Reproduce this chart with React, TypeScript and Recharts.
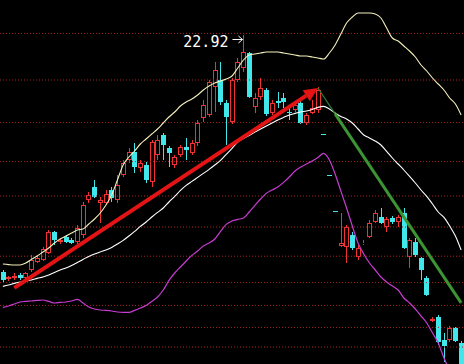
import React from 'react';
import { ComposedChart, Bar, Line, XAxis, YAxis, ReferenceLine, ReferenceDot } from 'recharts';

const days = Array.from({ length: 81 }, (_, i) => `D${i + 1}`);

const openP = [
  11.07, 10.72, 10.77, 10.92, 10.77, 11.17, 11.57, 11.67, 12.02, 13.07,
  12.57, 12.82, 12.67, 12.57, 12.92, 14.67, 15.32, 14.52, 14.52, 15.17,
  14.67, 15.92, 16.67, 17.07, 16.27, 16.42, 15.57, 16.92, 17.92, 17.27,
  16.42, 16.92, 17.32, 17.02, 17.52, 18.77, 18.92, 20.32, 20.67, 19.52,
  18.57, 20.67, 21.27, 22.02, 19.32, 19.82, 20.17, 19.02, 19.62, 19.77,
  19.07, 19.17, 19.52, 18.52, 19.02, 19.17, 17.97, 15.92, 14.12, 12.37,
  12.32, 12.92, 11.82, 12.47, 12.82, 13.57, 13.82, 13.32, 13.77, 13.57,
  14.02, 11.82, 12.57, 11.77, 10.77, 8.62, 8.82, 7.67, 7.67, 8.27, 7.52,
];
const closeP = [
  10.67, 10.82, 10.87, 10.77, 11.02, 11.67, 11.77, 12.22, 13.07, 12.67,
  12.67, 12.57, 12.52, 13.27, 14.42, 14.92, 14.82, 14.67, 14.97, 14.77,
  15.42, 16.52, 17.07, 16.32, 16.52, 15.67, 17.57, 17.67, 17.42, 17.02,
  16.82, 17.32, 17.17, 17.52, 18.52, 19.42, 20.57, 21.17, 19.57, 18.82,
  20.67, 21.57, 22.07, 19.82, 19.77, 20.27, 18.97, 19.52, 19.52, 19.57,
  19.02, 19.42, 18.52, 18.92, 19.27, 20.17, 17.97, 15.92, 14.12, 12.52,
  13.32, 12.27, 12.27, 12.52, 13.52, 14.02, 13.52, 13.72, 13.57, 13.82,
  12.27, 12.67, 11.92, 11.17, 9.92, 8.72, 7.57, 7.37, 8.27, 7.62, 6.37,
];
const highP = [
  11.17, 10.87, 11.02, 11.02, 11.07, 11.92, 11.87, 12.32, 13.17, 13.12,
  12.77, 12.92, 12.77, 13.42, 14.57, 15.07, 15.67, 14.82, 15.17, 15.32,
  15.92, 16.67, 17.27, 17.52, 16.67, 16.57, 17.67, 17.92, 18.02, 17.37,
  16.92, 17.42, 17.77, 17.67, 18.67, 19.67, 20.67, 21.57, 21.57, 19.67,
  20.77, 21.77, 22.92, 22.07, 20.02, 20.77, 20.27, 19.67, 20.07, 20.02,
  19.27, 19.52, 19.62, 19.02, 19.67, 20.32, 17.97, 15.92, 14.12, 14.02,
  13.42, 13.07, 12.42, 12.67, 13.67, 14.17, 14.27, 13.82, 13.87, 13.92,
  14.27, 12.77, 12.77, 11.82, 10.87, 8.82, 8.92, 8.02, 8.37, 8.32, 7.62,
];
const lowP = [
  10.52, 10.62, 10.67, 10.67, 10.72, 11.07, 11.52, 11.62, 11.97, 12.42,
  12.47, 12.52, 12.47, 12.47, 12.77, 14.52, 14.77, 13.52, 14.42, 14.57,
  14.52, 15.82, 16.52, 16.02, 16.07, 15.52, 15.32, 16.67, 16.67, 16.32,
  16.27, 16.82, 16.67, 16.92, 17.37, 18.57, 18.82, 19.07, 19.42, 17.42,
  18.47, 20.57, 21.07, 19.77, 19.02, 19.67, 18.87, 18.92, 19.27, 19.27,
  18.67, 19.07, 18.47, 18.42, 18.97, 19.02, 17.97, 15.92, 14.12, 12.32,
  11.52, 12.17, 11.67, 12.42, 12.77, 13.52, 13.47, 13.07, 13.47, 13.32,
  12.22, 11.27, 11.82, 10.67, 9.87, 8.57, 7.42, 6.57, 7.57, 7.57, 6.27,
];

const upperBand = [
  11.47, 11.44, 11.42, 11.42, 11.52, 11.70, 11.87, 12.07, 12.27, 12.52,
  12.72, 12.87, 13.02, 13.17, 13.22, 13.47, 13.72, 14.02, 14.42, 14.92,
  15.67, 16.42, 16.82, 17.12, 17.47, 17.72, 17.97, 18.22, 18.52, 18.82,
  19.07, 19.37, 19.57, 19.72, 19.92, 20.17, 20.37, 20.52, 20.62, 20.72,
  20.87, 21.27, 21.67, 21.92, 21.97, 22.02, 22.07, 22.07, 22.07, 22.02,
  21.97, 21.92, 21.87, 21.87, 21.82, 21.77, 21.72, 22.02, 22.42, 22.97,
  23.52, 23.82, 24.02, 24.02, 24.02, 23.97, 23.77, 23.27, 22.77, 22.62,
  22.37, 22.12, 21.82, 21.42, 21.12, 20.77, 20.47, 20.17, 19.77, 19.47, 18.92,
];
const midBand = [
  10.35, 10.42, 10.50, 10.57, 10.62, 10.67, 10.75, 10.82, 10.92, 11.05,
  11.17, 11.27, 11.40, 11.55, 11.70, 11.85, 11.97, 12.07, 12.17, 12.30,
  12.47, 12.65, 12.87, 13.10, 13.35, 13.57, 13.82, 14.05, 14.27, 14.57,
  14.85, 15.15, 15.40, 15.60, 15.80, 16.00, 16.20, 16.42, 16.65, 16.95,
  17.25, 17.57, 17.75, 17.90, 18.07, 18.22, 18.37, 18.52, 18.67, 18.80,
  18.92, 19.00, 19.07, 19.12, 19.20, 19.30, 19.35, 19.22, 19.02, 18.85,
  18.72, 18.52, 18.22, 17.92, 17.77, 17.62, 17.42, 17.10, 16.77, 16.47,
  16.17, 15.85, 15.52, 15.17, 14.85, 14.47, 14.07, 13.80, 13.37, 12.87, 12.17,
];
const lowerBand = [
  9.30, 9.37, 9.47, 9.57, 9.60, 9.62, 9.65, 9.67, 9.60, 9.52,
  9.55, 9.57, 9.62, 9.70, 9.52, 9.32, 9.22, 9.17, 9.15, 9.12,
  9.07, 9.05, 9.05, 9.15, 9.27, 9.40, 9.60, 9.82, 10.17, 10.65,
  11.02, 11.32, 11.62, 11.90, 12.12, 12.37, 12.52, 12.72, 13.10, 13.45,
  13.62, 13.70, 13.77, 14.07, 14.40, 14.72, 15.00, 15.17, 15.32, 15.55,
  15.82, 16.12, 16.32, 16.47, 16.62, 16.80, 17.00, 16.67, 15.97, 15.12,
  14.27, 13.37, 12.52, 11.97, 11.52, 11.17, 10.82, 10.57, 10.37, 10.17,
  9.77, 9.52, 9.22, 8.87, 8.52, 8.02, 7.52, 6.77, 6.17, 5.77, 5.37,
];

const gridPrices = [23.0, 20.67, 18.54, 16.59, 14.87, 13.32, 11.86, 10.54, 9.4, 8.3, 7.32];

const peakIndex = 42;
const peakLabel = '22.92';
const trendUp = [
  { idx: 2, price: 10.28 },
  { idx: 55, price: 20.27 },
];
const trendDownThin = [
  { idx: 55, price: 20.27 },
  { idx: 58, price: 18.98 },
];
const trendDown = [
  { idx: 58, price: 18.98 },
  { idx: 80, price: 9.53 },
];

const data = days.map((d, i) => ({
  d,
  open: openP[i],
  close: closeP[i],
  high: highP[i],
  low: lowP[i],
  upper: upperBand[i],
  mid: midBand[i],
  lower: lowerBand[i],
}));

const RED = '#f03232';
const CYAN = '#40e8ec';

const Candle = (props: any) => {
  const { x, y, width, height, payload } = props;
  if (payload == null || x == null || y == null) return null;
  const { open, close, high, low } = payload;
  const center = x + width / 2;
  const c = Math.floor(center);
  const wx = c + 0.5;
  const range = high - low;
  const h = height || 0;
  const py = (v: number) => (range > 0 ? y + ((high - v) / range) * h : y);
  const up = close > open;
  const color = up ? RED : CYAN;
  const yH = Math.round(py(high));
  const yL = Math.round(py(low));
  let top = Math.round(py(Math.max(open, close)));
  let bot = Math.round(py(Math.min(open, close)));
  if (range <= 0) {
    const yy = Math.round(y) + 0.5;
    return <line x1={c - 2} x2={c + 3} y1={yy} y2={yy} stroke={CYAN} strokeWidth={1} />;
  }
  if (up) {
    if (bot - top < 1) bot = top + 1;
    return (
      <g>
        {top > yH && <line x1={wx} x2={wx} y1={yH} y2={top} stroke={color} strokeWidth={1} />}
        {yL > bot && <line x1={wx} x2={wx} y1={bot} y2={yL} stroke={color} strokeWidth={1} />}
        <rect x={c - 1.5} y={top + 0.5} width={4} height={Math.max(bot - top - 1, 0)} fill="#000" stroke={color} strokeWidth={1} />
      </g>
    );
  }
  if (bot - top < 1) {
    return (
      <g>
        <line x1={wx} x2={wx} y1={yH} y2={yL} stroke={color} strokeWidth={1} />
        <line x1={c - 2} x2={c + 3} y1={top + 0.5} y2={top + 0.5} stroke={color} strokeWidth={1} />
      </g>
    );
  }
  return (
    <g>
      <line x1={wx} x2={wx} y1={yH} y2={yL} stroke={color} strokeWidth={1} />
      <rect x={c - 2} y={top} width={5} height={bot - top} fill={color} />
    </g>
  );
};

const ArrowShape = (props: any) => {
  const { x1, y1, x2, y2 } = props;
  if (x1 == null) return null;
  const ang = Math.atan2(y2 - y1, x2 - x1);
  const len = 14;
  const hw = 6.5;
  const bx = x2 - len * Math.cos(ang);
  const by = y2 - len * Math.sin(ang);
  const px = -Math.sin(ang);
  const py = Math.cos(ang);
  return (
    <g>
      <line x1={x1} y1={y1} x2={bx} y2={by} stroke="#e41414" strokeWidth={4} />
      <polygon
        points={`${x2},${y2} ${bx + px * hw},${by + py * hw} ${bx - px * hw},${by - py * hw}`}
        fill="#e41414"
      />
    </g>
  );
};

const PeakLabel = (props: any) => {
  const { cx, cy } = props;
  if (cx == null) return null;
  const ay = cy + 4.5;
  return (
    <g>
      <text
        x={cx - 15}
        y={cy + 11.5}
        textAnchor="end"
        fill="#ffffff"
        fontSize={15}
        fontFamily="'DejaVu Sans Mono', monospace"
      >
        {peakLabel}
      </text>
      <line x1={cx - 11} x2={cx - 1} y1={ay} y2={ay} stroke="#fff" strokeWidth={1} />
      <line x1={cx - 1} x2={cx - 5} y1={ay} y2={ay - 3.5} stroke="#fff" strokeWidth={1} />
      <line x1={cx - 1} x2={cx - 5} y1={ay} y2={ay + 3.5} stroke="#fff" strokeWidth={1} />
    </g>
  );
};

export default function App() {
  return (
    <div style={{ position: 'fixed', left: 0, top: 0, width: 464, height: 364, background: '#000', overflow: 'hidden' }}>
      <ComposedChart width={464} height={364} data={data} margin={{ top: 0, right: 0, bottom: 0, left: 0 }}>
        <XAxis dataKey="d" hide />
        <YAxis hide type="number" domain={[6.47, 24.67]} allowDataOverflow />
        {gridPrices.map((p) => (
          <ReferenceLine key={p} y={p} stroke="#a42424" strokeWidth={1} strokeDasharray="1 2" ifOverflow="extendDomain" />
        ))}
        <Line type="monotone" dataKey="upper" stroke="#f4f0bc" strokeWidth={1.1} dot={false} activeDot={false} isAnimationActive={false} />
        <Line type="monotone" dataKey="mid" stroke="#ffffff" strokeWidth={1.1} dot={false} activeDot={false} isAnimationActive={false} />
        <Line type="monotone" dataKey="lower" stroke="#c83cd2" strokeWidth={1.2} dot={false} activeDot={false} isAnimationActive={false} />
        <Bar dataKey={(r: any) => [r.low, r.high]} shape={Candle} activeBar={false} isAnimationActive={false} />
        <ReferenceLine
          segment={[
            { x: days[trendDownThin[0].idx], y: trendDownThin[0].price },
            { x: days[trendDownThin[1].idx], y: trendDownThin[1].price },
          ]}
          stroke="#2f7a2f"
          strokeWidth={1.3}
        />
        <ReferenceLine
          segment={[
            { x: days[trendDown[0].idx], y: trendDown[0].price },
            { x: days[trendDown[1].idx], y: trendDown[1].price },
          ]}
          stroke="#3c9432"
          strokeWidth={3}
        />
        <ReferenceLine
          segment={[
            { x: days[trendUp[0].idx], y: trendUp[0].price },
            { x: days[trendUp[1].idx], y: trendUp[1].price },
          ]}
          shape={ArrowShape}
        />
        <ReferenceDot x={days[peakIndex]} y={highP[peakIndex]} r={0} shape={PeakLabel} />
      </ComposedChart>
    </div>
  );
}
